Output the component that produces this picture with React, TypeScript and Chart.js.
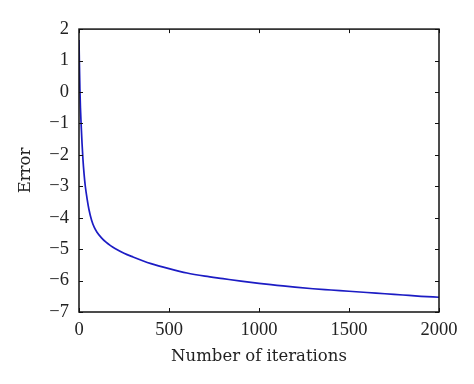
import React, { useEffect, useRef } from "react";
import { Chart, registerables } from "chart.js";

Chart.register(...registerables);

const iterations = [0, 2, 5, 8, 12, 17, 22, 28, 35, 45, 55, 70, 85, 100, 125, 150, 175, 200, 250, 300, 350, 400, 500, 600, 700, 800, 900, 1000, 1100, 1200, 1300, 1400, 1500, 1600, 1700, 1800, 1900, 2000];
const errors = [1.65, 0.95, 0.1, -0.5, -1.05, -1.65, -2.15, -2.6, -3.0, -3.4, -3.73, -4.08, -4.31, -4.46, -4.64, -4.78, -4.89, -4.98, -5.13, -5.25, -5.36, -5.46, -5.62, -5.76, -5.86, -5.94, -6.02, -6.09, -6.15, -6.21, -6.26, -6.3, -6.34, -6.38, -6.42, -6.46, -6.5, -6.53];
const xTicks = [0, 500, 1000, 1500, 2000];
const yTicks = [2, 1, 0, -1, -2, -3, -4, -5, -6, -7];
const xTitle = "Number of iterations";
const yTitle = "Error";

const TICK_FONT = "'Liberation Serif', 'Times New Roman', serif";
const TITLE_FONT = "'DejaVu Serif', 'Liberation Serif', serif";

const boxPlugin = {
  id: "boxTicks",
  afterDatasetsDraw(chart: any) {
    const { ctx, chartArea, scales } = chart;
    const { left, right, top, bottom } = chartArea;
    const len = 4;
    ctx.save();
    ctx.strokeStyle = "#111";
    ctx.lineWidth = 1;
    ctx.beginPath();
    xTicks.forEach((v) => {
      const px = Math.round(scales.x.getPixelForValue(v)) + 0.5;
      ctx.moveTo(px, bottom);
      ctx.lineTo(px, bottom - len);
      ctx.moveTo(px, top);
      ctx.lineTo(px, top + len);
    });
    yTicks.forEach((v) => {
      const py = Math.round(scales.y.getPixelForValue(v)) + 0.5;
      ctx.moveTo(left, py);
      ctx.lineTo(left + len, py);
      ctx.moveTo(right, py);
      ctx.lineTo(right - len, py);
    });
    ctx.stroke();
    ctx.lineWidth = 1.5;
    ctx.strokeRect(left, top, right - left, bottom - top);
    ctx.restore();
  },
};

export default function App() {
  const ref = useRef<HTMLCanvasElement>(null);
  useEffect(() => {
    if (!ref.current) return;
    const chart = new Chart(ref.current, {
      type: "line",
      data: {
        datasets: [
          {
            data: iterations.map((x, i) => ({ x, y: errors[i] })),
            borderColor: "#1c1cc4",
            borderWidth: 1.7,
            pointRadius: 0,
            cubicInterpolationMode: "monotone",
            fill: false,
          },
        ],
      },
      options: {
        animation: false,
        responsive: false,
        events: [],
        layout: { padding: { top: 20, right: 27, left: 0, bottom: 0 } },
        plugins: { legend: { display: false }, tooltip: { enabled: false } },
        scales: {
          x: {
            type: "linear",
            min: 0,
            max: 2000,
            grid: { display: false, drawTicks: false },
            border: { display: false },
            afterBuildTicks: (s: any) => {
              s.ticks = xTicks.map((v) => ({ value: v }));
            },
            afterFit: (s: any) => {
              s.height = 64;
            },
            ticks: {
              color: "#222",
              padding: 7,
              maxRotation: 0,
              font: { family: TICK_FONT, size: 18.5 },
              callback: (v: any) => String(v),
            },
            title: {
              display: true,
              text: xTitle,
              color: "#222",
              font: { family: TITLE_FONT, size: 16.5 },
              padding: { top: 0, bottom: 9 },
            },
          },
          y: {
            type: "linear",
            min: -7,
            max: 2,
            grid: { display: false, drawTicks: false },
            border: { display: false },
            afterBuildTicks: (s: any) => {
              s.ticks = yTicks.map((v) => ({ value: v }));
            },
            afterFit: (s: any) => {
              s.width = 71;
            },
            ticks: {
              color: "#222",
              padding: 10,
              font: { family: TICK_FONT, size: 18.5 },
              callback: (v: any) => String(v).replace("-", "\u2212"),
            },
            title: {
              display: true,
              text: yTitle,
              color: "#222",
              font: { family: TITLE_FONT, size: 16.5 },
              padding: { top: 8, bottom: 0 },
            },
          },
        },
      },
      plugins: [boxPlugin],
    } as any);
    return () => chart.destroy();
  }, []);
  return <canvas ref={ref} width={458} height={368} style={{ display: "block" }} />;
}
